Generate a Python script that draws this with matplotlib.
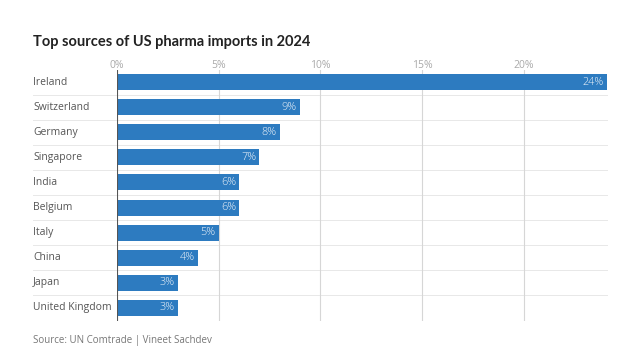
import numpy as np
import matplotlib.pyplot as plt

plt.rcParams['font.family'] = ['Open Sans', 'DejaVu Sans']

countries = ["Ireland", "Switzerland", "Germany", "Singapore", "India",
             "Belgium", "Italy", "China", "Japan", "United Kingdom"]
shares = [24.1, 9.0, 8.0, 7.0, 6.0, 6.0, 5.0, 4.0, 3.0, 3.0]
value_labels = ["24%", "9%", "8%", "7%", "6%", "6%", "5%", "4%", "3%", "3%"]
xticks = [0, 5, 10, 15, 20]
xtick_labels = ["0%", "5%", "10%", "15%", "20%"]

bar_color = "#2d7bc0"
W, H = 640, 359

fig = plt.figure(figsize=(6.4, 3.59), dpi=100)
left, right = 117 / W, 607 / W
top, bottom = 1 - 69.5 / H, 1 - 320.5 / H
ax = fig.add_axes([left, bottom, right - left, top - bottom])

y = np.arange(len(countries))
ax.barh(y, shares, height=0.64, color=bar_color, zorder=3)
ax.set_ylim(len(countries) - 0.5, -0.5)
ax.set_xlim(0, max(shares))

# value labels inside bars
for yi, v, lab in zip(y, shares, value_labels):
    ax.text(v - 0.15, yi, lab, ha="right", va="center", color="#f2f6fb",
            fontsize=7.8, fontweight="light", zorder=4)

# vertical gridlines
for t in xticks[1:]:
    ax.axvline(t, color="#d6d6d6", lw=0.8, zorder=1)
ax.axvline(0, color="#555555", lw=0.8, zorder=4)

# row separators extending under the labels
x0 = (33 - 117) / (607 - 117)
for yi in y[:-1]:
    ax.plot([x0, 1], [yi + 0.5, yi + 0.5], transform=ax.get_yaxis_transform(),
            color="#e8e8e8", lw=0.7, clip_on=False, zorder=0)

# category labels
for yi, c in zip(y, countries):
    ax.text(x0, yi, c, transform=ax.get_yaxis_transform(), ha="left",
            va="center", fontsize=7.5, color="#555555")

ax.set_xticks(xticks)
ax.set_xticklabels(xtick_labels, fontsize=7.5, color="#aaaaaa")
ax.xaxis.tick_top()
ax.tick_params(axis="x", length=0, pad=-1)
ax.set_yticks([])
for s in ax.spines.values():
    s.set_visible(False)

fig.text(33 / W, 1 - 42 / H, "Top sources of US pharma imports in 2024",
         fontsize=10.5, fontweight="bold", color="#222222", va="center",
         family=["Lato", "DejaVu Sans"])
fig.text(33 / W, 1 - 340 / H, "Source: UN Comtrade | Vineet Sachdev",
         fontsize=7, color="#777777", va="center")

fig.savefig("out.png", dpi=100, facecolor="white")
